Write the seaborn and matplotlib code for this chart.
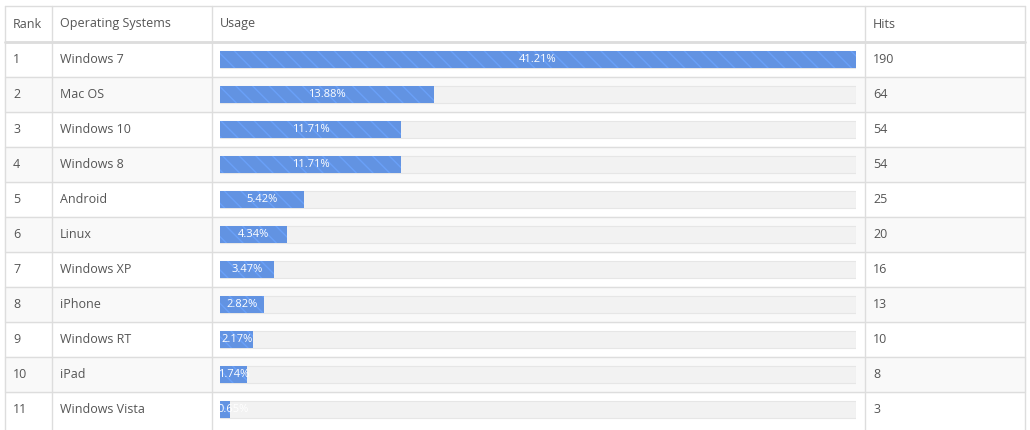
import matplotlib
matplotlib.use("Agg")
import matplotlib.pyplot as plt
import seaborn as sns
import pandas as pd

sns.set_theme(style="white")
plt.rcParams['font.family'] = ['Open Sans', 'DejaVu Sans']

ranks = list(range(1, 12))
systems = ["Windows 7", "Mac OS", "Windows 10", "Windows 8", "Android", "Linux",
           "Windows XP", "iPhone", "Windows RT", "iPad", "Windows Vista"]
usage = [41.21, 13.88, 11.71, 11.71, 5.42, 4.34, 3.47, 2.82, 2.17, 1.74, 0.65]
hits = [190, 64, 54, 54, 25, 20, 16, 13, 10, 8, 3]
headers = ["Rank", "Operating Systems", "Usage", "Hits"]

W, H = 1030, 430
fig = plt.figure(figsize=(W / 100, H / 100), dpi=100)
ax = fig.add_axes([0, 0, 1, 1])
ax.set_xlim(0, W); ax.set_ylim(H, 0); ax.axis("off")

line = "#dddddd"; txt = "#555555"
top, hh, rh = 6, 36, 35
cols = [5, 52, 212, 865, 1025]
y0 = top + hh
for i in range(len(systems)):
    y = y0 + i * rh
    if i % 2 == 1:
        ax.add_patch(plt.Rectangle((cols[0], y), cols[-1] - cols[0], rh, color="#f9f9f9", zorder=0))
    ax.plot([cols[0], cols[-1]], [y, y], color=line, lw=1)
    cy = y + rh / 2
    ax.text(13, cy, str(ranks[i]), va="center", fontsize=9, color=txt)
    ax.text(60, cy, systems[i], va="center", fontsize=9, color=txt)
    ax.text(873, cy, str(hits[i]), va="center", fontsize=9, color=txt)
ax.plot([cols[0], cols[-1]], [top, top], color=line, lw=1)
ax.plot([cols[0], cols[-1]], [y0, y0], color=line, lw=2)
for x in cols:
    ax.plot([x, x], [top, H], color=line, lw=1)
for x, h in zip([13, 60, 220, 873], headers):
    ax.text(x, top + hh / 2, h, va="center", fontsize=9, color=txt)

# bars
bx0, bx1 = 220, 856
bar_ax = fig.add_axes([bx0 / W, (H - (y0 + rh * 11)) / H, (bx1 - bx0) / W, rh * 11 / H])
bar_ax.patch.set_alpha(0)
df = pd.DataFrame({"os": systems, "usage": usage, "full": [max(usage)] * len(usage)})
sns.barplot(data=df, y="os", x="full", ax=bar_ax, color="#f2f2f2", width=0.5,
            edgecolor="#e6e6e6", linewidth=0.8, orient="h")
sns.barplot(data=df, y="os", x="usage", ax=bar_ax, color="#4d8ef7", width=0.5,
            linewidth=0, orient="h")
plt.rcParams['hatch.linewidth'] = 6
for p in bar_ax.patches[len(systems):]:
    p.set_hatch("\\\\")
    p.set_edgecolor("#6aa0f8")
    p.set_linewidth(0)
bar_ax.set_xlim(0, max(usage))
bar_ax.set_ylim(len(systems) - 0.5, -0.5)
bar_ax.axis("off")
for i, v in enumerate(usage):
    bar_ax.text(max(v / 2, 0.85), i, f"{v:.2f}%", ha="center", va="center",
                fontsize=8, color="white")

fig.savefig("out.png", dpi=100)
